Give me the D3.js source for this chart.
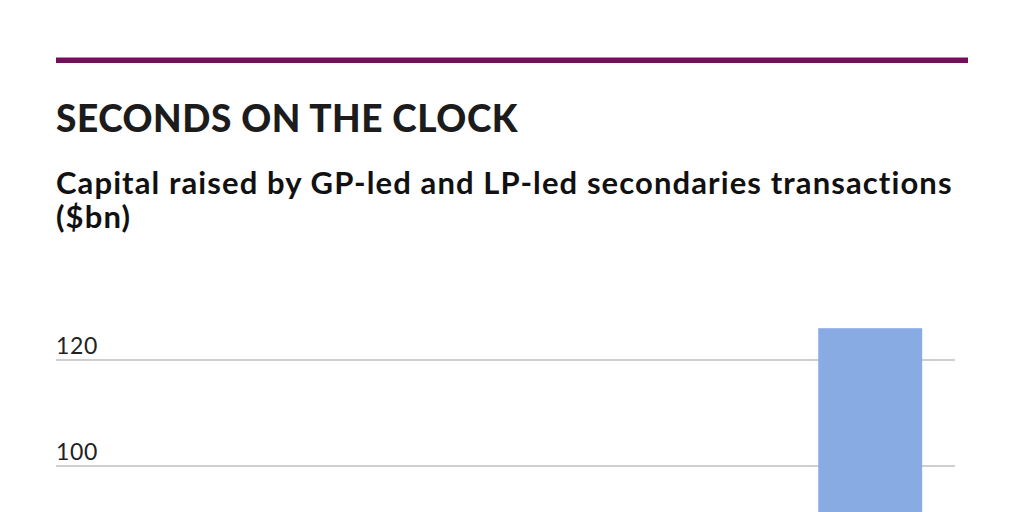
<!DOCTYPE html>
<html>
<head>
<meta charset="utf-8">
<script src="https://cdn.jsdelivr.net/npm/d3@7"></script>
<style>
  html, body { margin: 0; padding: 0; background: #fff; overflow: hidden; }
  svg { display: block; }
</style>
</head>
<body>
<svg id="chart" width="1024" height="512"></svg>
<script>
// chart values
const years = ["2017", "2018", "2019", "2020", "2021"];
const gpLed = [12, 24, 26, 31, 63];
const lpLed = [46, 50, 62, 29, 63];
const tickValues = [0, 20, 40, 60, 80, 100, 120];

const GP_COLOR = "#2b3f7a";
const LP_COLOR = "#89abe3";

const width = 1024, height = 512;
const svg = d3.select("#chart");
const left = 56, right = 955;

// top rule
svg.append("rect")
  .attr("x", left).attr("y", 57.5)
  .attr("width", 968 - left).attr("height", 5.5)
  .attr("fill", "#750f5c");

// title
svg.append("text")
  .attr("x", left).attr("y", 132)
  .text("SECONDS ON THE CLOCK")
  .style("font-family", "Lato, sans-serif")
  .style("font-weight", 900)
  .style("font-size", "37px")
  .style("letter-spacing", "0.55px")
  .style("fill", "#1c1c1c");

// subtitle, two lines
const subStyle = (t) => t
  .style("font-family", "Lato, sans-serif")
  .style("font-weight", 700)
  .style("font-size", "31px")
  .style("letter-spacing", "1.1px")
  .style("fill", "#111");
svg.append("text").attr("x", left).attr("y", 194)
  .text("Capital raised by GP-led and LP-led secondaries transactions")
  .call(subStyle);
svg.append("text").attr("x", left).attr("y", 228)
  .text("($bn)")
  .call(subStyle);

// scales
const x = d3.scaleBand()
  .domain(years)
  .range([left, right])
  .paddingInner(0.43)
  .paddingOuter(0.18);

const y = d3.scaleLinear()
  .domain([0, 140])
  .range([996, 254]);

// gridlines + labels (the chart runs past the bottom of the frame,
// so only the ticks that land inside it get drawn)
const grid = svg.append("g");
tickValues.filter((v) => y(v) < height).forEach((v) => {
  grid.append("line")
    .attr("x1", left).attr("x2", right)
    .attr("y1", y(v)).attr("y2", y(v))
    .attr("stroke", "#cfcfcf")
    .attr("stroke-width", 2);
  grid.append("text")
    .attr("x", left).attr("y", y(v) - 6)
    .text(v)
    .style("font-family", "Lato, sans-serif")
    .style("font-weight", 400)
    .style("font-size", "23px")
    .style("letter-spacing", "0.6px")
    .style("fill", "#222");
});

// stacked bars
const rows = years.map((yr, i) => ({ year: yr, gp: gpLed[i], lp: lpLed[i] }));
const stack = d3.stack().keys(["gp", "lp"])(rows);
const colors = { gp: GP_COLOR, lp: LP_COLOR };

stack.forEach((layer) => {
  svg.append("g")
    .attr("fill", colors[layer.key])
    .selectAll("rect")
    .data(layer)
    .join("rect")
    .attr("x", (d) => x(d.data.year))
    .attr("width", x.bandwidth())
    .attr("y", (d) => y(d[1]))
    .attr("height", (d) => y(d[0]) - y(d[1]));
});
</script>
</body>
</html>
